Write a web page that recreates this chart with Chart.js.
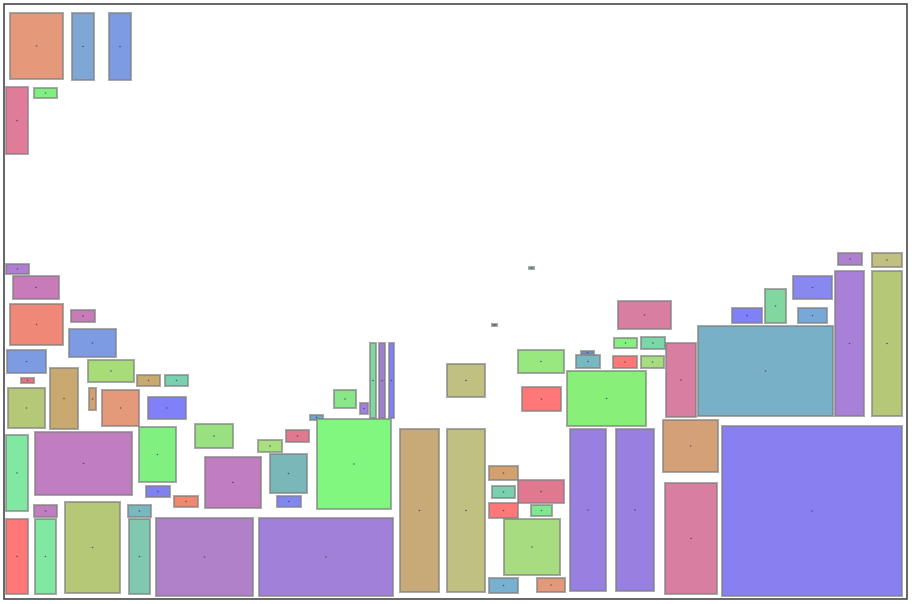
<!DOCTYPE html>
<html>
<head>
<meta charset="utf-8">
<script src="https://cdn.jsdelivr.net/npm/chart.js@4.4.1/dist/chart.umd.min.js"></script>
<style>
  body { margin: 0; background: #fff; }
  canvas { display: block; }
</style>
</head>
<body>
<canvas id="packing" width="912" height="604"></canvas>
<script>
// rectangles of the packing: left, top, width, height (plot units, y counted from the top)
const rectX = [6, 68, 105, 2, 30, 2, 9, 6, 67, 65, 3, 84, 17, 46, 133, 161, 4, 85, 98, 144,
  135, 2, 31, 142, 170, 2, 30, 31, 61, 124, 125, 152, 255, 191, 201, 254, 282, 266, 273, 313,
  306, 330, 356, 366, 375, 385, 525, 488, 443, 514, 518, 396, 443, 485, 488, 485, 514, 527, 500, 485,
  533, 614, 610, 637, 609, 637, 577, 572, 563, 566, 612, 662, 694, 659, 661, 718, 834, 868, 831, 868,
  789, 761, 728, 794];
const rectY = [9, 9, 9, 83, 84, 260, 272, 300, 306, 325, 346, 356, 374, 364, 371, 371, 384, 384, 386, 393,
  423, 431, 428, 482, 492, 515, 501, 515, 498, 501, 515, 514, 514, 420, 453, 436, 426, 450, 492, 415,
  411, 386, 399, 339, 339, 339, 263, 320, 360, 346, 383, 425, 425, 462, 482, 499, 476, 501, 515, 574,
  574, 297, 334, 333, 352, 352, 347, 351, 367, 425, 425, 339, 322, 416, 479, 422, 249, 249, 267, 267,
  272, 285, 304, 304];
const rectW = [53, 22, 22, 22, 23, 23, 46, 53, 24, 47, 39, 46, 13, 28, 23, 23, 37, 7, 37, 38,
  37, 22, 97, 24, 24, 22, 23, 21, 55, 23, 21, 97, 134, 38, 56, 24, 23, 37, 24, 74,
  13, 22, 8, 6, 6, 5, 5, 5, 38, 46, 39, 39, 38, 29, 23, 29, 46, 21, 56, 29,
  28, 53, 23, 24, 24, 23, 13, 24, 79, 36, 38, 30, 135, 55, 52, 180, 24, 30, 29, 30,
  39, 21, 30, 29];
const rectH = [66, 67, 67, 67, 10, 10, 23, 41, 12, 28, 23, 22, 5, 61, 11, 11, 40, 22, 36, 22,
  55, 76, 63, 11, 11, 75, 12, 75, 91, 12, 75, 78, 78, 24, 51, 12, 12, 39, 11, 90,
  5, 18, 11, 75, 75, 75, 2, 2, 33, 23, 24, 163, 163, 14, 12, 15, 23, 11, 56, 15,
  14, 28, 10, 12, 12, 12, 3, 13, 55, 162, 162, 74, 90, 52, 111, 170, 12, 14, 145, 145,
  23, 34, 15, 15];

// fill colour of each rectangle
const rectColors = ['#e49a7a', '#7ea7d6', '#7d9be3', '#e07b9a', '#80f080', '#b07ed0', '#c77bb8', '#f08878', '#c77bb8', '#7d9be3',
  '#7d9be3', '#a8dc78', '#f07080', '#c8aa70', '#c8aa70', '#78d0b0', '#b4c878', '#d4a070', '#e49a7a', '#8080f8',
  '#80f080', '#80e8a0', '#c07ec0', '#8080f0', '#f08870', '#ff7878', '#c07ec0', '#80e8a0', '#b4c878', '#78b8c0',
  '#80c8b0', '#b080c8', '#a080d8', '#98e080', '#c07ec0', '#a8e080', '#e07890', '#78b8b8', '#8088f0', '#80f880',
  '#70a8c8', '#88e888', '#a080e0', '#80d8a0', '#a080d0', '#8080f8', '#80d080', '#a080b0', '#c0c080', '#98e880',
  '#ff7878', '#c8aa78', '#c0c080', '#d4a070', '#78d0b0', '#ff7878', '#e07890', '#80e890', '#a8dc80', '#78b0d0',
  '#e49a7a', '#d87ea0', '#88f080', '#78d8a8', '#ff7878', '#a8dc80', '#7090d0', '#78b8c0', '#88f078', '#9880e0',
  '#9880e0', '#d87ea0', '#78b0c8', '#d4a078', '#d87ea0', '#8880f0', '#b080d0', '#c0c080', '#a880d8', '#b4c878',
  '#8888f0', '#80d8a0', '#8080f8', '#78a8d8'];

const plotWidth = 903;
const plotHeight = 595;

// contour fermé de chaque rectangle
const boxes = rectX.map((x, i) => {
    const y = rectY[i], w = rectW[i], h = rectH[i];
    return {
        data: [{x: x, y: y}, {x: x + w, y: y}, {x: x + w, y: y + h}, {x: x, y: y + h}, {x: x, y: y}],
        backgroundColor: rectColors[i],
        borderColor: 'rgba(125,125,125,0.65)',
        borderWidth: 2,
        borderCapStyle: 'square',
        borderJoinStyle: 'miter',
        pointRadius: 0,
        fill: 'shape'
    };
});

// petit point au centre de chaque rectangle
const centers = {
    data: rectX.map((x, i) => ({x: x + rectW[i] / 2, y: rectY[i] + rectH[i] / 2})),
    showLine: false,
    pointRadius: 0.8,
    pointBorderWidth: 0,
    pointBackgroundColor: 'rgba(50,50,90,0.75)'
};

const frame = {
    id: 'frame',
    afterDraw(chart) {
        const {ctx, chartArea: a} = chart;
        ctx.save();
        ctx.strokeStyle = '#444';
        ctx.lineWidth = 1.6;
        ctx.strokeRect(a.left, a.top, a.right - a.left, a.bottom - a.top);
        ctx.restore();
    }
};

new Chart(document.getElementById('packing').getContext('2d'), {
    type: 'line',
    data: { datasets: [centers].concat(boxes) },
    options: {
        responsive: false,
        animation: false,
        layout: { padding: { left: 4, top: 4, right: 5, bottom: 5 } },
        scales: {
            x: { type: 'linear', min: 0, max: plotWidth, display: false },
            y: { type: 'linear', min: 0, max: plotHeight, reverse: true, display: false }
        },
        plugins: {
            legend: { display: false },
            tooltip: { enabled: false }
        }
    },
    plugins: [frame]
});
</script>
</body>
</html>
